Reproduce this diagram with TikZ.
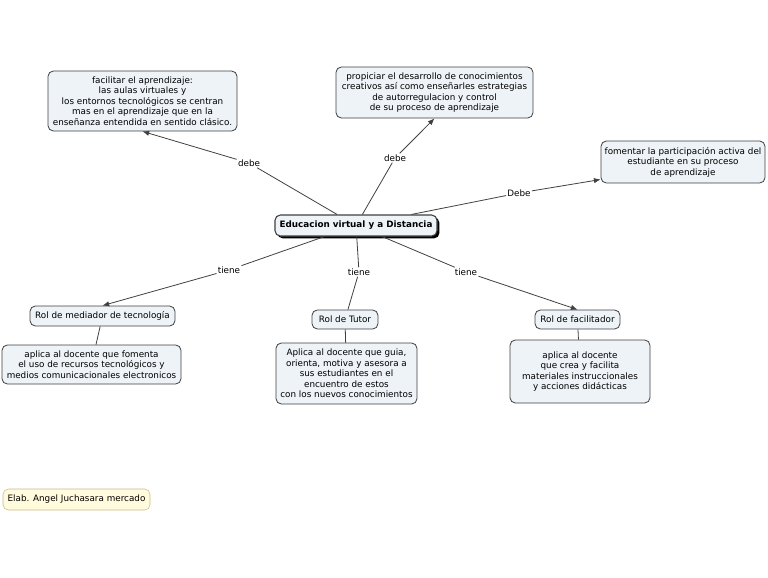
\documentclass[tikz,border=0pt]{standalone}
\usepackage{fontspec}
\setmainfont{DejaVu Sans}
\usetikzlibrary{shadows,arrows.meta}
\definecolor{boxfill}{HTML}{EDF3F6}
\definecolor{boxline}{HTML}{404040}
\definecolor{notefill}{HTML}{FFFBDC}
\definecolor{noteline}{HTML}{C9B98C}
\newcommand{\mapfont}{\fontsize{6.6}{7.8}\selectfont}
\begin{document}
\begin{tikzpicture}[x=0.75pt,y=-0.75pt,font=\mapfont,
    concept/.style={draw=boxline,fill=boxfill,rounded corners=4pt,align=center,
      inner sep=1pt,line width=0.6pt},
    mainconcept/.style={concept,font=\mapfont\bfseries,line width=0.8pt,
      drop shadow={shadow xshift=1.8pt,shadow yshift=-1.8pt,fill=black,opacity=1}},
    note/.style={draw=noteline,fill=notefill,rounded corners=4pt,inner sep=1pt},
    linklabel/.style={fill=white,inner sep=0.8pt},
    link/.style={draw=black!75,line width=0.6pt},
    arrowlink/.style={link,-{Latex[length=5pt,width=4pt]}}]
  \useasboundingbox (0,0) rectangle (768,578);
  % concepts
  \node[mainconcept,minimum width=121.5pt,minimum height=15.75pt] (main) at (356,225.5)
    {Educacion virtual y a Distancia};
  \node[concept,minimum width=141.75pt,minimum height=45pt] (aprendizaje) at (142.5,101)
    {facilitar el aprendizaje:\\las aulas virtuales y\\los entornos tecnológicos se centran\\
     mas en el aprendizaje que en la\\enseñanza entendida en sentido clásico.};
  \node[concept,minimum width=147.75pt,minimum height=38.25pt] (desarrollo) at (434.5,92.5)
    {propiciar el desarrollo de conocimientos\\creativos así como enseñarles estrategias\\
     de autorregulacion y control\\de su proceso de aprendizaje};
  \node[concept,minimum width=123pt,minimum height=31.5pt] (participacion) at (683,162)
    {fomentar la participación activa del\\estudiante en su proceso\\de aprendizaje};
  \node[concept,minimum width=108.75pt,minimum height=15pt] (mediador) at (102.5,316)
    {Rol de mediador de tecnología};
  \node[concept,minimum width=49.5pt,minimum height=14.25pt] (tutor) at (345,319.5)
    {Rol de Tutor};
  \node[concept,minimum width=63.75pt,minimum height=14.25pt] (facilitador) at (577.5,319.5)
    {Rol de facilitador};
  \node[concept,minimum width=134.25pt,minimum height=29.25pt] (mediadortxt) at (91.5,364.5)
    {aplica al docente que fomenta\\el uso de recursos tecnológicos y\\medios comunicacionales electronicos};
  \node[concept,minimum width=105.75pt,minimum height=45.75pt] (tutortxt) at (346.5,373.5)
    {Aplica al docente que guia,\\orienta, motiva y asesora a\\sus estudiantes en el\\
     encuentro de estos\\con los nuevos conocimientos};
  \node[concept,minimum width=105pt,minimum height=47.25pt] (facilitadortxt) at (580,371.5)
    {aplica al docente\\que crea y facilita\\materiales instruccionales\\y acciones didácticas};
  \node[note,minimum width=110.25pt,minimum height=15.75pt] (autor) at (76.5,499.5)
    {Elab. Angel Juchasara mercado};
  % link labels
  \node[linklabel] (debeA) at (249,163) {debe};
  \node[linklabel] (debeB) at (395,158) {debe};
  \node[linklabel] (debeC) at (519,193) {Debe};
  \node[linklabel] (tieneA) at (229,270) {tiene};
  \node[linklabel] (tieneB) at (359,272) {tiene};
  \node[linklabel] (tieneC) at (466,272) {tiene};
  % connectors
  \foreach \lbl in {debeA,debeB,debeC,tieneA,tieneB,tieneC}
    \path[link] (main) -- (\lbl);
  \path[arrowlink] (debeA) -- (aprendizaje.south);
  \path[arrowlink] (debeB) -- (desarrollo.south);
  \path[arrowlink] (debeC) -- (participacion.192);
  \path[arrowlink] (tieneA) -- (mediador.north);
  \path[link] (tieneB) -- (tutor);
  \path[arrowlink] (tieneC) -- (facilitador.north);
  \path[link] (mediador) -- (mediadortxt);
  \path[link] (tutor) -- (tutortxt);
  \path[link] (facilitador) -- (facilitadortxt);
\end{tikzpicture}
\end{document}
